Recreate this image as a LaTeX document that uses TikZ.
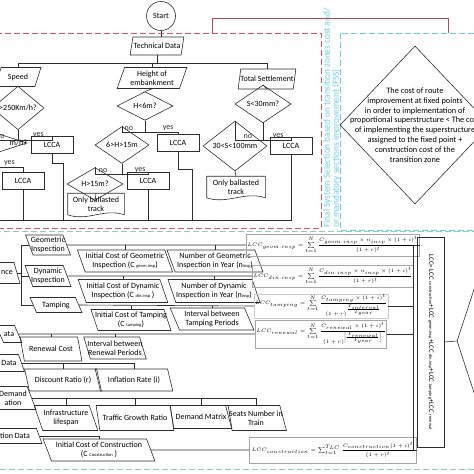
\documentclass[tikz,border=0pt]{standalone}
\usepackage{fontspec}
\setmainfont{Carlito}
\usepackage{amsmath}
\usepackage{amssymb}
\usetikzlibrary{shapes.geometric,calc}

\definecolor{fssred}{RGB}{214,86,98}
\definecolor{fsscyan}{RGB}{105,208,226}
\definecolor{lccteal}{RGB}{140,208,192}
\definecolor{lne}{RGB}{45,45,45}

\newcommand{\sbs}[1]{{\fontsize{4.5}{5}\selectfont #1}}

\tikzset{
  inp/.style={trapezium, trapezium left angle=72, trapezium right angle=108, trapezium stretches=true, draw=lne, align=center, inner xsep=-2pt, inner ysep=1pt},
  dat/.style={trapezium, trapezium left angle=112, trapezium right angle=68, trapezium stretches=true, draw=lne, align=center, inner xsep=-3pt, inner ysep=1pt},
  dec/.style={diamond, draw=lne, inner sep=0pt, align=center},
  proc/.style={rectangle, draw=lne, minimum width=42, minimum height=17, inner sep=1pt},
  docu/.style={inner sep=1pt, align=center},
  frml/.style={rectangle, draw=black!35, inner sep=1pt, font=\fontsize{4.3}{5}\selectfont},
  lbl/.style={inner sep=1.5pt, above},
}

\begin{document}
\begin{tikzpicture}[x=1pt,y=-1pt,line width=0.6pt,font=\fontsize{8}{8.8}\selectfont]
\useasboundingbox (0,0) rectangle (474,474);
\clip (0,0) rectangle (474,474);

% technical data part
\node[circle, draw=lne, minimum size=29, inner sep=0pt] (start) at (161,16) {Start};
\node[inp, minimum width=54, minimum height=18] (tech) at (157,46) {Technical Data};
\node[inp, minimum width=46, minimum height=19] (speed) at (18,77) {Speed};
\node[inp, minimum width=70, minimum height=21] (height) at (152,78) {Height of\\embankment};
\node[inp, minimum width=58, minimum height=20] (sett) at (267,79) {Total Settlement};

\node[dec, minimum width=52, minimum height=20] (dv1) at (18,108) {>250Km/h?};
\node[dec, minimum width=62, minimum height=20, label={[inner sep=0pt, anchor=east]east:m/h?}] (dv2) at (-4,143) {};
\node[dec, minimum width=56, minimum height=20] (dh1) at (145,106) {H<6m?};
\node[dec, minimum width=54, minimum height=20] (dh2) at (122,145) {6>H>15m};
\node[dec, minimum width=56, minimum height=17] (dh3) at (95,184) {H>15m?};
\node[dec, minimum width=56, minimum height=18] (ds1) at (263,104) {S<30mm?};
\node[dec, minimum width=64, minimum height=18] (ds2) at (235,146) {30<S<100mm};

\node[proc] (lA) at (52,145) {LCCA};
\node[proc] (lB) at (23,181) {LCCA};
\node[proc] (lC) at (178,143) {LCCA};
\node[proc] (lD) at (148,181) {LCCA};
\node[proc] (lE) at (291,146) {LCCA};

\node[docu, minimum width=56, minimum height=21] (docH) at (96,204) {Only ballasted\\track};
\node[docu, minimum width=58, minimum height=21] (docS) at (236,187) {Only ballasted\\track};
\foreach \d in {docH,docS}
  \draw[lne] (\d.north west) -- (\d.north east) -- (\d.south east)
    .. controls +(-20,-7) and +(20,7) .. (\d.south west) -- cycle;

\draw[lne] (start.south) -- (start.south |- tech.north);
\coordinate (tj) at ($(tech.south)+(0,8)$);
\draw[lne] (tech.south) -- (tj);
\draw[lne] (speed.north) |- (tj) -| (sett.north);
\draw[lne] (height.north) -- (height.north |- tj);
\draw[lne] (speed.south) -- (dv1.north);
\draw[lne] (height.south) -- (dh1.north);
\draw[lne] (sett.south) -- (ds1.north);

\draw[lne] (dv1.south) -- ++(0,10) coordinate (sv1);
\draw[lne] (dv2.north) |- node[lbl, pos=0.6] {no} (sv1) -| node[lbl, pos=0.3] {yes} (lA.north);
\draw[lne] (dv2.south) -- ++(0,14) coordinate (sv2);
\draw[lne] (sv2) -| node[lbl, pos=0.25] {yes} (lB.north);
\draw[lne] (dh1.south) -- ++(0,12) coordinate (sh1);
\draw[lne] (dh2.north) |- node[lbl, pos=0.65] {no} (sh1) -| node[lbl, pos=0.35] {yes} (lC.north);
\draw[lne] (dh2.south) -- ++(0,11) coordinate (sh2);
\draw[lne] (dh3.north) |- node[lbl, pos=0.65] {no} (sh2) -| node[lbl, pos=0.35] {yes} (lD.north);
\draw[lne] (ds1.south) -- ++(0,17) coordinate (ss1);
\draw[lne] (ds2.north) |- node[lbl, pos=0.73] {no} (ss1) -| node[lbl, pos=0.27] {yes} (lE.north);
\draw[lne] (dh3.south) -- (docH.north);
\draw[lne] (ds2.south) -- (docS.north);

\coordinate (bl) at (-5,220);
\draw[lne] (lE.south) |- (bl);
\draw[lne] (lB.south) |- (bl);
\draw[lne] (lD.south) |- (bl);
\draw[lne] (lA.south) -- ++(0,9) -- ++(11,0) |- (bl);
\draw[lne] (lC.south) -- ++(0,17) -- ++(14,0) |- (bl);

% selection frames
\draw[fssred, dash pattern=on 6pt off 3pt] (-5,33) rectangle (321,228);
\draw[fsscyan, dash pattern=on 6pt off 3pt] (340,33) rectangle (480,230);
\draw[lccteal, dash pattern=on 6pt off 3pt] (-5,231) rectangle (480,469);
\coordinate (rb1) at (212,33);
\coordinate (rb2) at (448,33);
\draw[fssred!85!black] (rb1) -- ++(0,-15) -| (rb2);

\node[rotate=90, anchor=north west, text=fsscyan, align=left, inner sep=0pt, font=\fontsize{9.3}{9}\selectfont] (fsstxt) at (323,228)
  {Final System Selection based on transition zones cost and/\\or mandatory sections improvement (FSS)};

\node[dec, minimum width=150, minimum height=158, label={[align=center, font=\fontsize{8.3}{9.8}\selectfont]center:The cost of route\\improvement at fixed points\\in order to implementation of\\proportional superstructure < The cost\\of implementing the superstructure\\assigned to the fixed point +\\construction cost of the\\transition zone}] (fss) at (415,125) {};

% life cycle cost part
\node[dat, minimum width=26, minimum height=21] (maint) at (7,273) {nce};
\node[dat, minimum width=45, minimum height=20] (geo) at (48,245) {Geometric\\Inspection};
\node[dat, minimum width=46, minimum height=21] (dyn) at (48,276) {Dynamic\\Inspection};
\node[dat, minimum width=52, minimum height=15] (tamp) at (56,305) {Tamping};
\node[dat, minimum width=96, minimum height=22] (icg) at (125,261) {Initial Cost of Geometric\\Inspection (C \sbs{geom.insp})};
\node[dat, minimum width=96, minimum height=22] (nog) at (215,261) {Number of Geometric\\Inspection in Year (n\sbs{insp})};
\node[dat, minimum width=90, minimum height=23] (icd) at (123,291) {Initial Cost of Dynamic\\Inspection (C \sbs{din.insp} )};
\node[dat, minimum width=92, minimum height=23] (nod) at (214,291) {Number of Dynamic\\Inspection in Year (n\sbs{insp})};
\node[dat, minimum width=80, minimum height=21] (ict) at (131,320) {Initial Cost of Tamping\\(C \sbs{tamping})};
\node[dat, minimum width=84, minimum height=22] (itp) at (212,319) {Interval between\\Tamping Periods};

\node[dat, minimum width=26, minimum height=17] (ren) at (9,334) {ata};
\node[dat, minimum width=62, minimum height=24] (rc) at (51,349) {Renewal Cost};
\node[dat, minimum width=60, minimum height=22] (irp) at (115,348) {Interval between\\Renewal Periods};

\node[dat, minimum width=31, minimum height=17] (eco) at (9,363) {Data};
\node[dat, minimum width=77, minimum height=22] (dr) at (63,380) {Discount Ratio (r)};
\node[dat, minimum width=78, minimum height=22] (ir) at (134,380) {Inflation Rate (i)};

\node[dat, minimum width=46, minimum height=23] (dem) at (13,398) {Demand\\ation};
\node[dat, minimum width=64, minimum height=25] (il) at (66,418) {Infrastructure\\lifespan};
\node[dat, minimum width=78, minimum height=25] (tgr) at (135,418) {Traffic Growth Ratio};
\node[dat, minimum width=62, minimum height=23] (dm) at (201,417) {Demand Matrix};
\node[dat, minimum width=58, minimum height=25] (snt) at (256,418) {Seats Number in\\Train};

\node[dat, minimum width=54, minimum height=15] (con) at (15,436) {tion Data};
\node[dat, minimum width=112, minimum height=22] (icc) at (99,450) {Initial Cost of Construction\\(C \sbs{Construction} )};

\node[frml, minimum width=127, minimum height=22] (f1) at (333,245)
  {$LCC_{geom.insp}=\displaystyle\sum_{t=1}^{N}\frac{C_{geom.insp}\times n_{insp}\times(1+i)^t}{(1+r)^t}$};
\node[frml, minimum width=126, minimum height=22] (f2) at (333,276)
  {$LCC_{din.insp}=\displaystyle\sum_{t=1}^{N}\frac{C_{din.insp}\times n_{insp}\times(1+i)^t}{(1+r)^t}$};
\node[frml, draw=black!20, minimum width=103, minimum height=22] (f3) at (321,306)
  {$LCC_{tamping}=\displaystyle\sum_{t=1}^{N}\frac{C_{tamping}\times(1+i)^t}{(1+r)^{\frac{T_{interval}}{T_{year}}}}$};
\node[frml, minimum width=103, minimum height=28] (f4) at (321,334)
  {$LCC_{renewal}=\displaystyle\sum_{t=1}^{N}\frac{C_{renewal}\times(1+i)^t}{(1+r)^{\left\lceil\frac{T_{renewal}}{T_{year}}\right\rceil}}$};
\node[frml, minimum width=120, minimum height=26, inner sep=2pt] (f5) at (333,450)
  {$LCC_{construction}=\displaystyle\sum\nolimits_{t=1}^{T_{LC}}\frac{C_{construction}(1+i)^t}{(1+r)^t}$};

\node[draw=lne, rotate=-90, minimum width=210, minimum height=27, inner sep=1pt, font=\fontsize{7}{8}\selectfont] (lcc) at (431,342)
  {LCC= LCC \sbs{construction}+LCC \sbs{geom.insp}+LCC \sbs{din.insp}+LCC \sbs{tamping}+LCC \sbs{renewal}};
\node[dec, minimum width=80, minimum height=244] (fin) at (497,341) {};

\coordinate (mt) at ($(maint.east)+(4,0)$);
\draw[lne] (maint.east) -- (mt);
\draw[lne] (geo.west) -| (mt) |- (tamp.west);
\draw[lne] (dyn.west) -- (dyn.west -| mt);

\draw[lne] (geo.east) -- (f1.west);
\draw[lne] (icg.north) -- (icg.north |- f1.west);
\draw[lne] (nog.north) -- (nog.north |- f1.west);
\draw[lne] (dyn.east) -- (f2.west);
\draw[lne] (icd.north) -- (icd.north |- f2.west);
\draw[lne] (nod.north) -- (nod.north |- f2.west);
\draw[lne] (tamp.east) -- (f3.west);
\draw[lne] (ict.north) -- (ict.north |- f3.west);
\draw[lne] (itp.north) -- (itp.north |- f3.west);
\draw[lne, line width=0.9pt] (ren.east) -- (f4.west);
\draw[lne] (rc.north) -- (rc.north |- f4.west);
\draw[lne] (irp.north) -- (irp.north |- f4.west);
\draw[lne] (eco.east) -| (ir.north);
\draw[lne] (dr.north) -- (dr.north |- eco.east);
\draw[lne] (dem.east) -| (snt.north);
\foreach \n in {il,tgr,dm}
  \draw[lne] (\n.north) -- (\n.north |- dem.east);
\draw[lne] (con.east) -| (icc.north);
\draw[lne] (icc.east) -- (f5.west);

\coordinate (bt) at (413,245);
\draw[lne] (f1.east) -- (bt) |- (f5.east);
\foreach \f in {f2,f3,f4}
  \draw[lne] (\f.east) -- (\f.east -| bt);
\draw[lne] (lcc.north) -- (fin.west);
\end{tikzpicture}
\end{document}
